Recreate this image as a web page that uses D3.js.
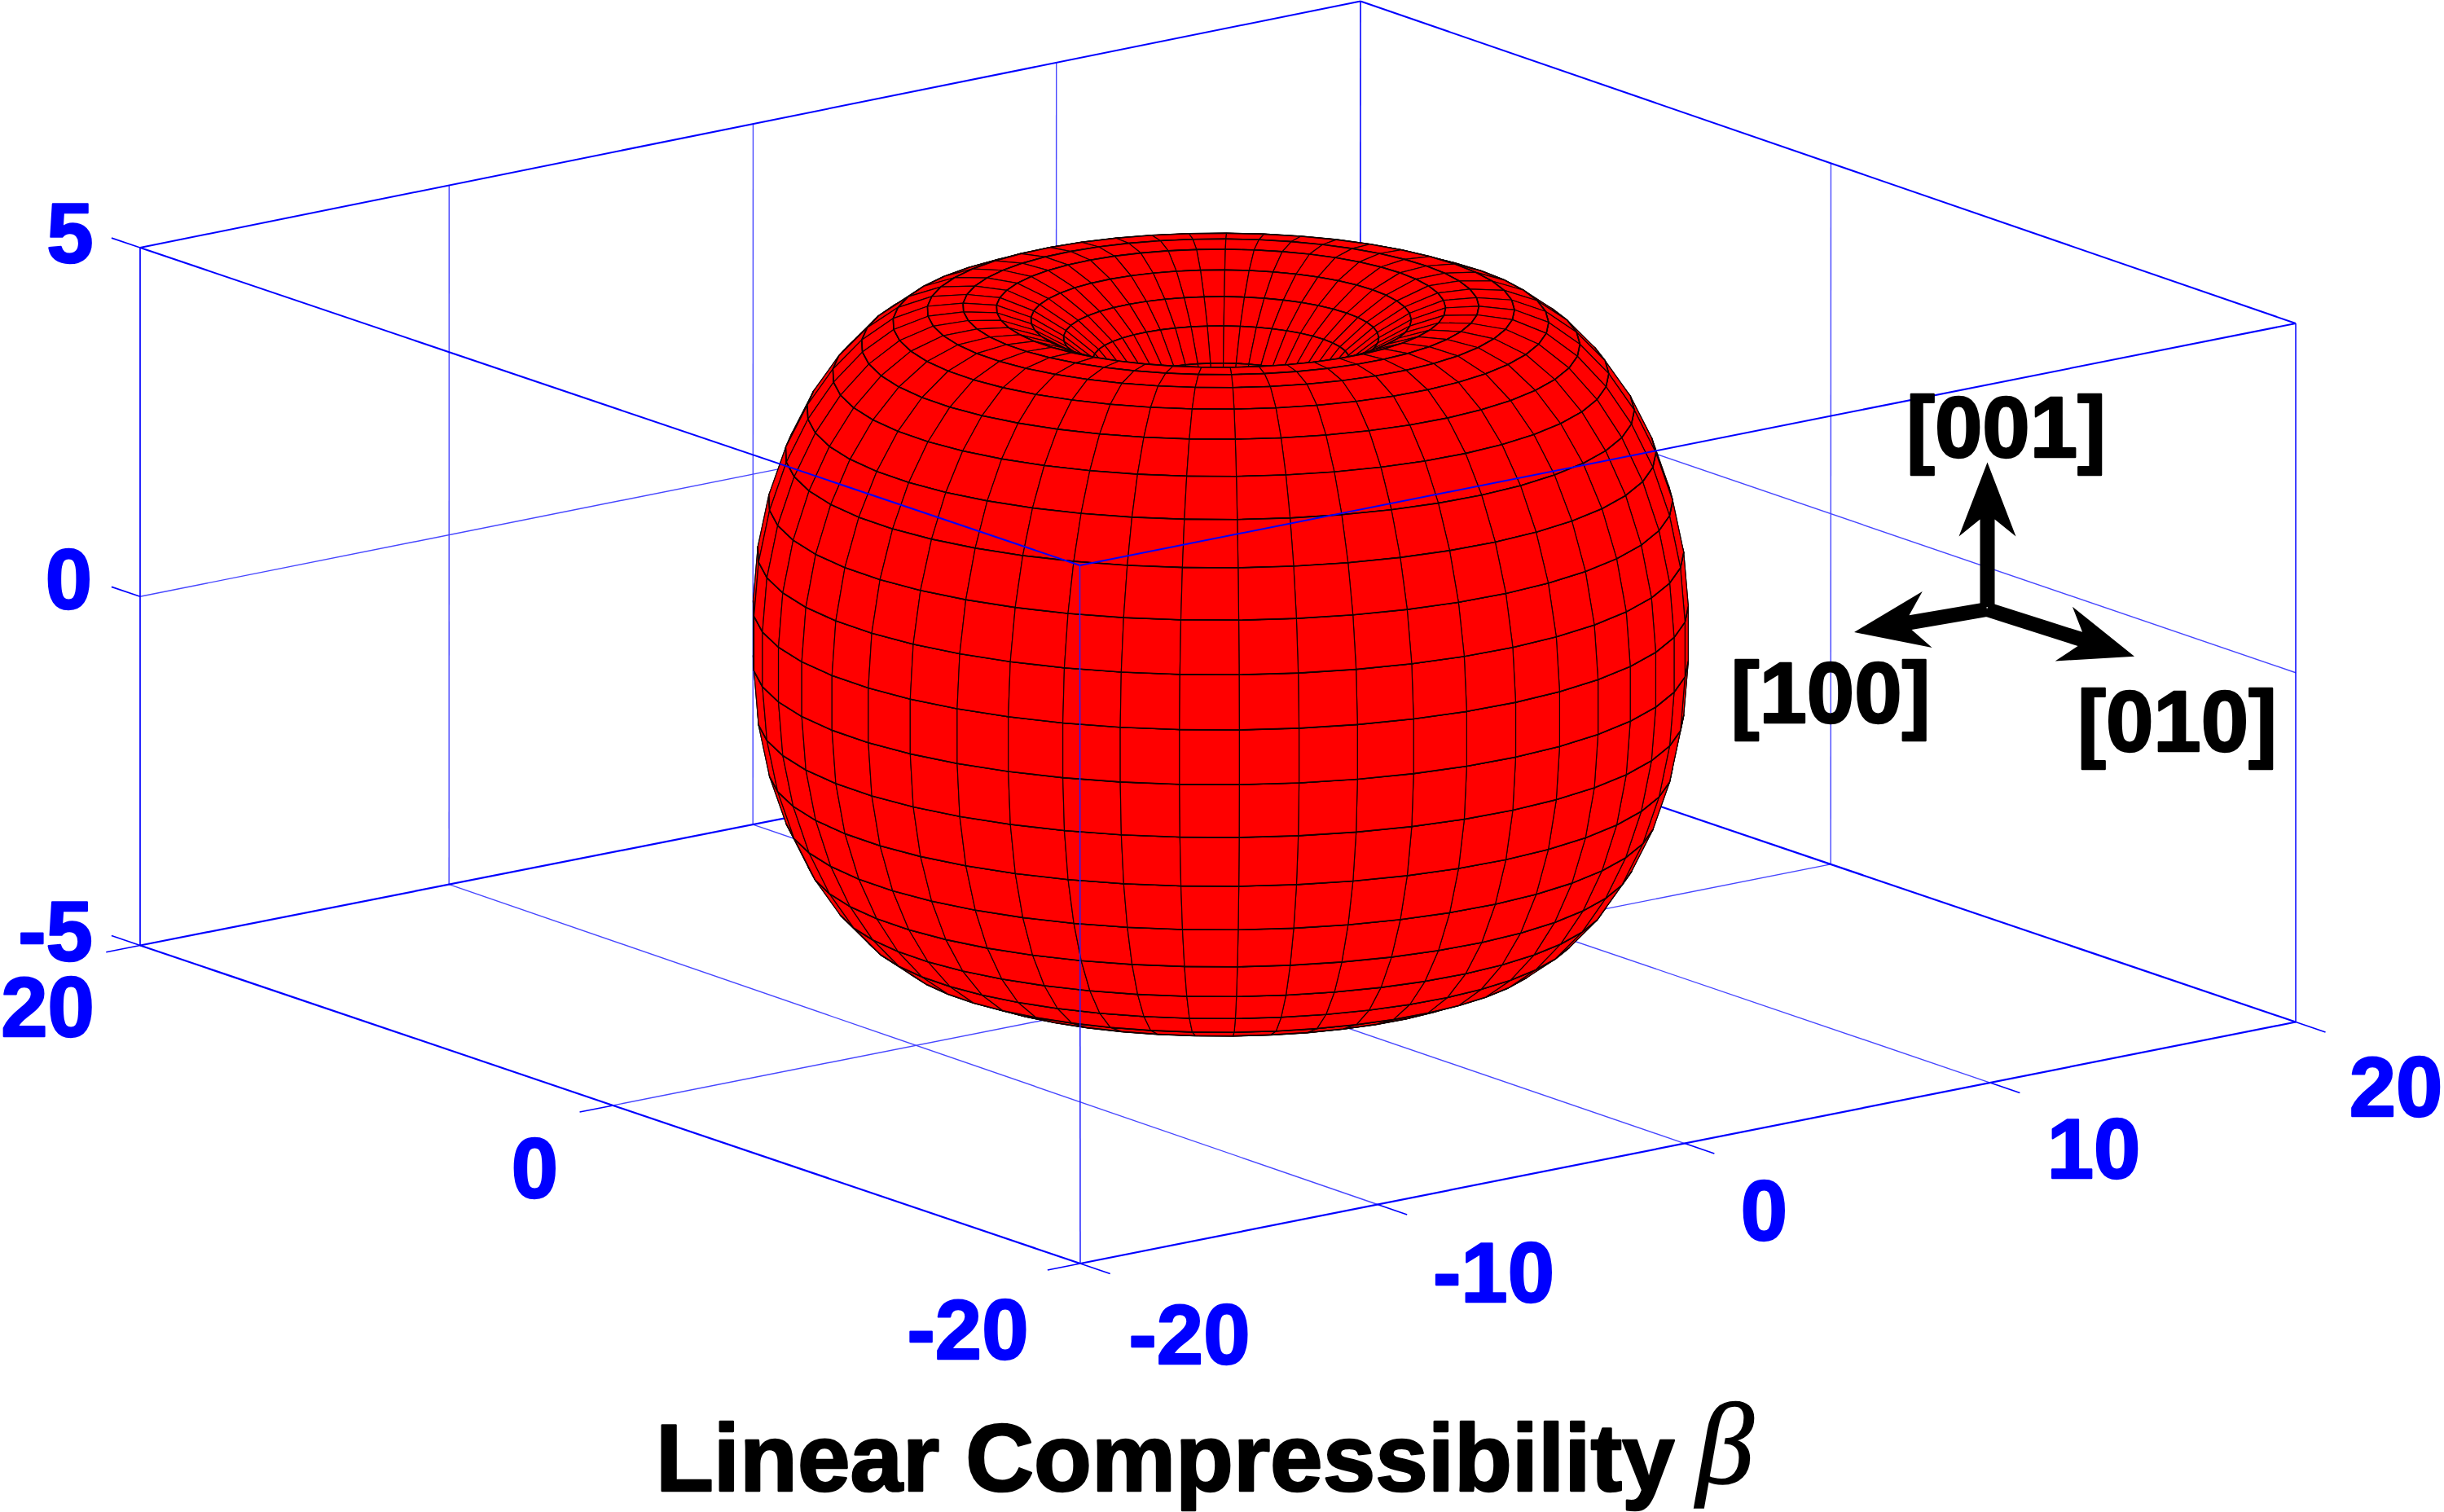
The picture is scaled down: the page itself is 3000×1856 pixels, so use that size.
<!DOCTYPE html>
<html><head><meta charset="utf-8">
<script src="https://cdn.jsdelivr.net/npm/d3@7/dist/d3.min.js"></script>
<style>html,body{margin:0;padding:0;background:#fff}svg{display:block}
text{font-family:"Liberation Sans",Arial,sans-serif;font-weight:700}</style></head>
<body><svg id="c" width="3000" height="1856"></svg>
<script>
// ---------- data ----------
const uTicks = [-20, -10, 0, 10, 20];
const vTicks = [-20, 0, 20];
const zTicks = [-5, 0, 5];
const axisTitle = "Linear Compressibility";
const axisSymbol = "β";
const directionLabels = ["[001]", "[100]", "[010]"];
// mesh latitude of each ring, degrees, north pole to south pole
const ringLatitude = [90,86.33,82.65,78.98,75.31,71.63,67.96,64.29,60.61,56.94,53.27,49.59,45.92,42.24,38.57,34.90,31.22,27.55,23.88,20.20,16.53,12.86,9.18,5.51,1.84,
 -1.84,-5.51,-9.18,-12.86,-16.53,-20.20,-23.88,-27.55,-31.22,-34.90,-38.57,-42.24,-45.92,-49.59,-53.27,-56.94,-60.61,-64.29,-67.96,-71.63,-75.31,-78.98,-82.65,-86.33,-90];
// linear compressibility along that latitude
const ringBeta = [0,0.05,0.20,0.45,0.79,1.22,1.72,2.30,2.95,3.65,4.38,5.17,5.91,6.70,7.49,8.20,8.95,9.64,10.24,10.78,11.25,11.64,11.94,12.13,12.20,
 12.20,12.13,11.94,11.64,11.25,10.78,10.24,9.64,8.95,8.20,7.49,6.70,5.91,5.17,4.38,3.65,2.95,2.30,1.72,1.22,0.79,0.45,0.20,0.05,0];
// mesh longitude of each meridian, degrees
const meridianLongitude = [0,7.35,14.69,22.04,29.39,36.73,44.08,51.43,58.78,66.12,73.47,80.82,88.16,95.51,102.86,110.20,117.55,124.90,132.24,139.59,146.94,154.29,161.63,168.98,176.33,183.67,191.02,198.37,205.71,213.06,220.41,227.76,235.10,242.45,249.80,257.14,264.49,271.84,279.18,286.53,293.88,301.22,308.57,315.92,323.27,330.61,337.96,345.31,352.65,360];

// ---------- layout ----------
const corners = { // screen position of the eight box corners
  f0:[1326,1551], r0:[2818,1254.5], l0:[172,1160.5], b0:[1669.5,865],
  f1:[1325.5,694], r1:[2818,397], l1:[172,304], b1:[1670,1.5]};
const uFracFront = d3.scaleLinear().domain(uTicks).range([0,.2446,.4973,.7486,1]);
const uFracBack  = d3.scaleLinear().domain(uTicks).range([0,.2532,.5023,.7508,1]);
const vFrac = d3.scaleLinear().domain(vTicks).range([0,.497,1]);
const zFrac = d3.scaleLinear().domain([-5,5]).range([0,1]);
function project(u,v,z){
  const b=vFrac(v), c=zFrac(z), a=uFracFront(u)*(1-b)+uFracBack(u)*b;
  const mix=(i)=>{
    const lo=(1-a)*(1-b)*corners.f0[i]+a*(1-b)*corners.r0[i]+(1-a)*b*corners.l0[i]+a*b*corners.b0[i];
    const hi=(1-a)*(1-b)*corners.f1[i]+a*(1-b)*corners.r1[i]+(1-a)*b*corners.l1[i]+a*b*corners.b1[i];
    return lo*(1-c)+hi*c;};
  return [mix(0),mix(1)];
}
const depth=(u,v,z)=>-0.583*u-0.770*v+0.489*z;
const BLUE="#0000ff", GRID="#4646ff";
const svg=d3.select("#c");
const line=d3.line();
function seg(g,a,b,w,col){g.append("path").attr("d",line([project(...a),project(...b)])).attr("fill","none").attr("stroke",col).attr("stroke-width",w);}

// ---------- back: walls and floor ----------
const back=svg.append("g");
const [U0,U1]=d3.extent(uTicks),[V0,V1]=d3.extent(vTicks),[Z0,Z1]=d3.extent(zTicks);
uTicks.slice(1,-1).forEach(u=>{
  seg(back,[u,V0,Z0],[u,V1,Z0],1.4,GRID);
  seg(back,[u,V1,Z0],[u,V1,Z1],1.4,GRID);
});
vTicks.slice(1,-1).forEach(v=>{
  seg(back,[U0,v,Z0],[U1,v,Z0],1.4,GRID);
  seg(back,[U1,v,Z0],[U1,v,Z1],1.4,GRID);
});
zTicks.slice(1,-1).forEach(z=>{
  seg(back,[U0,V1,z],[U1,V1,z],1.4,GRID);
  seg(back,[U1,V1,z],[U1,V0,z],1.4,GRID);
});
// box edges behind the surface
seg(back,[U0,V1,Z0],[U1,V1,Z0],2.2,BLUE);
seg(back,[U1,V1,Z0],[U1,V0,Z0],2.2,BLUE);
seg(back,[U0,V1,Z1],[U1,V1,Z1],2.0,BLUE);
seg(back,[U1,V1,Z1],[U1,V0,Z1],2.0,BLUE);
seg(back,[U0,V1,Z0],[U0,V1,Z1],1.7,BLUE);
seg(back,[U1,V0,Z0],[U1,V0,Z1],1.5,BLUE);
seg(back,[U1,V1,Z0],[U1,V1,Z1],1.6,BLUE);
// axis lines and ticks
seg(back,[U0,V0,Z0],[U1,V0,Z0],2.2,BLUE);
seg(back,[U0,V0,Z0],[U0,V1,Z0],2.2,BLUE);
uTicks.forEach(u=>seg(back,[u,V0,Z0],[u,V0-1.28,Z0],1.6,BLUE));
vTicks.forEach(v=>seg(back,[U0,v,Z0],[U0-1.1,v,Z0],1.6,BLUE));
zTicks.forEach(z=>seg(back,[U0,V1,z],[U0,V1+1.21,z],1.6,BLUE));

// ---------- surface ----------
const rad=d3.scaleLinear().domain([0,180]).range([0,Math.PI]);
const nodes=ringLatitude.map((lat,i)=>meridianLongitude.map(lon=>{
  const r=ringBeta[i], p=rad(lat), a=rad(lon);
  return [r*Math.cos(p)*Math.cos(a), r*Math.cos(p)*Math.sin(a), r*Math.sin(p)];
}));
const quads=[];
d3.pairs(d3.range(ringLatitude.length)).forEach(([i,i2])=>{
  d3.pairs(d3.range(meridianLongitude.length)).forEach(([j,j2])=>{
    const q=[nodes[i][j],nodes[i][j2],nodes[i2][j2],nodes[i2][j]];
    quads.push({q,d:d3.mean(q,p=>depth(...p))});
  });
});
quads.sort((a,b)=>d3.ascending(a.d,b.d));
const closed=d3.line().curve(d3.curveLinearClosed);
const mesh=svg.append("g").attr("stroke-linejoin","round").attr("stroke","#140000");
quads.forEach(d=>{
  const p=d.q.map(n=>project(...n));
  mesh.append("path").attr("d",closed(p)).attr("fill","#ff0000").attr("stroke-width",1.2);
  mesh.append("path").attr("d",line(p.slice(0,2))+line(p.slice(2,4))).attr("fill","none").attr("stroke-width",1.6);
});

// ---------- front edges, drawn over the surface ----------
const front=svg.append("g");
seg(front,[U0,V0,Z1],[U1,V0,Z1],2.0,BLUE);
seg(front,[U0,V0,Z1],[U0,V1,Z1],2.0,BLUE);
seg(front,[U0,V0,Z0],[U0,V0,Z1],1.5,"#2020ff");

// ---------- tick labels ----------
const labels=svg.append("g").attr("fill",BLUE).attr("stroke",BLUE).attr("stroke-width",2.4).attr("stroke-linejoin","round").attr("font-size",103).attr("text-anchor","middle");
const put=(t,x,y)=>labels.append("text").attr("x",x).attr("y",y).text(t);
put(String(zTicks[2]),86,322); put(String(zTicks[1]),84.5,747); put(String(zTicks[0]),68,1179);
const vAt=[[1188,1668],[656.5,1470],[58.5,1272]];
vTicks.forEach((t,i)=>put(String(t),vAt[i][0],vAt[i][1]));
const uAt=[[1460,1674],[1833.5,1598],[2165.5,1522],[2570,1446],[2941,1370]];
uTicks.forEach((t,i)=>put(String(t),uAt[i][0],uAt[i][1]));

// ---------- axis title ----------
svg.append("text").attr("x",805).attr("y",1830).attr("font-size",116).attr("fill","#000").attr("stroke","#000").attr("stroke-width",2.6).attr("stroke-linejoin","round").text(axisTitle);
svg.append("text").attr("x",2082).attr("y",1821).attr("font-size",142).attr("fill","#000").attr("stroke","#000").attr("stroke-width",1.6)
  .style("font-family",'"Liberation Serif",serif').style("font-style","italic").style("font-weight",400).text(axisSymbol);

// ---------- crystal direction arrows ----------
const arrowFrom=[[2439.5,745],[2439,748],[2439,748]];
const arrowTo=[[2439.5,567.5],[2276,776],[2620,805.7]];
const dl=[[2462.5,561],[2247,887],[2672.5,922]];
const SHAFT=9,HEAD=91,NOTCH=70,HALF=35;
const arrows=svg.append("g");
arrowTo.forEach((tip,i)=>{
  const from=arrowFrom[i];
  const dx=tip[0]-from[0], dy=tip[1]-from[1], L=Math.hypot(dx,dy), ux=dx/L, uy=dy/L, nx=-uy, ny=ux;
  const at=(a,n)=>[tip[0]-ux*a+nx*n, tip[1]-uy*a+ny*n];
  const pts=[tip,at(HEAD,HALF),at(NOTCH,SHAFT),at(L,SHAFT),at(L,-SHAFT),at(NOTCH,-SHAFT),at(HEAD,-HALF)];
  arrows.append("path").attr("d",closed(pts)).attr("fill","#000");
});
const dirs=svg.append("g").attr("font-size",105).attr("text-anchor","middle").attr("fill","#000").attr("stroke","#000").attr("stroke-width",2.4).attr("stroke-linejoin","round");
directionLabels.forEach((t,i)=>dirs.append("text").attr("x",dl[i][0]).attr("y",dl[i][1]).text(t));
</script></body></html>
